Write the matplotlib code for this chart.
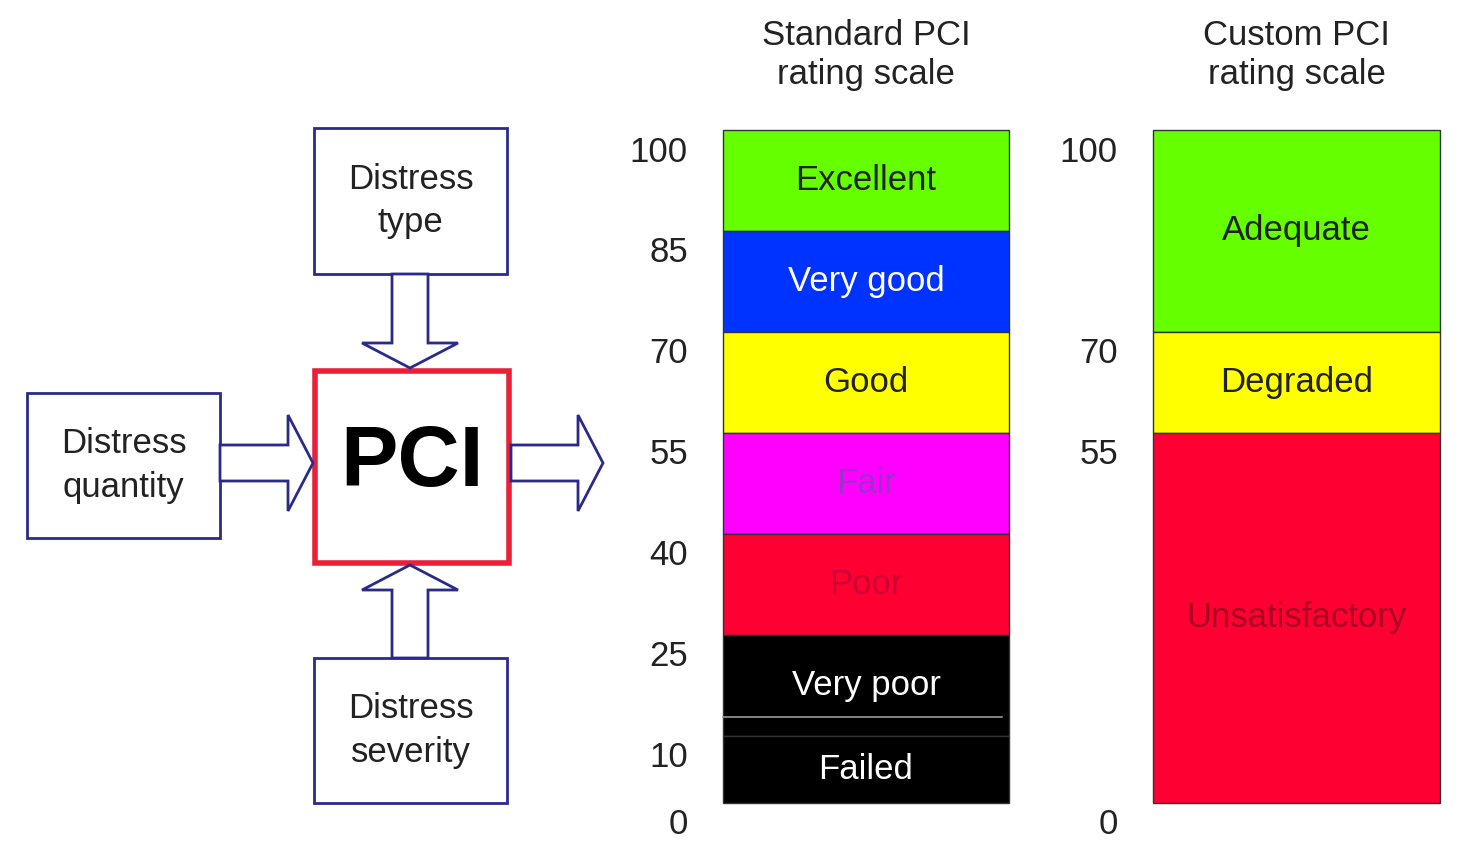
import matplotlib
matplotlib.use("Agg")
import matplotlib.pyplot as plt
from matplotlib.patches import Rectangle, FancyArrow

plt.rcParams['font.family'] = ['Liberation Sans', 'DejaVu Sans']

# standard scale
std_bounds = [100, 85, 70, 55, 40, 25, 10, 0]
std_labels = ['Excellent', 'Very good', 'Good', 'Fair', 'Poor', 'Very poor', 'Failed']
std_colors = ['#66ff00', '#0033ff', '#ffff00', '#ff00ff', '#ff0033', '#000000', '#000000']
std_text = ['#222222', 'white', '#222222', '#9933cc', '#cc0033', 'white', 'white']

# custom scale
cus_bounds = [100, 70, 55, 0]
cus_labels = ['Adequate', 'Degraded', 'Unsatisfactory']
cus_colors = ['#66ff00', '#ffff00', '#ff0033']
cus_text = ['#222222', '#222222', '#aa0022']

top_px, bot_px = 130, 803


def ypix(v):
    return bot_px - (bot_px - top_px) * v / 100.0


fig = plt.figure(figsize=(14.65, 8.64), dpi=100)
ax = fig.add_axes([0, 0, 1, 1])
ax.set_xlim(0, 1465)
ax.set_ylim(864, 0)
ax.axis('off')


def scale(x0, x1, bounds, labels, colors, tcolors, tick_x, title):
    for i, lab in enumerate(labels):
        y0, y1 = ypix(bounds[i]), ypix(bounds[i + 1])
        ax.add_patch(Rectangle((x0, y0), x1 - x0, y1 - y0, facecolor=colors[i],
                               edgecolor='#333333', lw=1))
        ax.text((x0 + x1) / 2, (y0 + y1) / 2, lab, ha='center', va='center',
                fontsize=25, color=tcolors[i])
    for b in bounds:
        ax.text(tick_x, ypix(b) + 22, str(b), ha='right', va='center', fontsize=25,
                color='#222222')
    ax.text((x0 + x1) / 2, 55, title, ha='center', va='center', fontsize=25,
            color='#222222', linespacing=1.2)


scale(723, 1009, std_bounds, std_labels, std_colors, std_text, 688,
      'Standard PCI\nrating scale')
scale(1153, 1440, cus_bounds, cus_labels, cus_colors, cus_text, 1118,
      'Custom PCI\nrating scale')
# grey line between Very poor and Failed
ax.plot([723, 1002], [ypix(10) - 19, ypix(10) - 19], color='#999999', lw=1.2)

navy = '#2a2a8a'
boxes = [(314, 128, 193, 146, 'Distress\ntype'),
         (27, 393, 193, 145, 'Distress\nquantity'),
         (314, 658, 193, 145, 'Distress\nseverity')]
for x, y, w, h, t in boxes:
    ax.add_patch(Rectangle((x, y), w, h, facecolor='white', edgecolor=navy, lw=2))
    ax.text(x + w / 2, y + h / 2, t, ha='center', va='center', fontsize=25,
            color='#222222', linespacing=1.4)

ax.add_patch(Rectangle((315, 371), 194, 192, facecolor='white', edgecolor='#e8203a', lw=4))
ax.text(412, 464, 'PCI', ha='center', va='center', fontsize=62, fontweight='bold',
        color='black')

akw = dict(width=36, head_width=96, head_length=25, length_includes_head=True,
           facecolor='white', edgecolor=navy, lw=2)
ax.add_patch(FancyArrow(410, 274, 0, 94, **akw))
ax.add_patch(FancyArrow(410, 658, 0, -93, **akw))
ax.add_patch(FancyArrow(220, 463, 93, 0, **akw))
ax.add_patch(FancyArrow(511, 463, 92, 0, **akw))

fig.savefig('out.png', dpi=100)
